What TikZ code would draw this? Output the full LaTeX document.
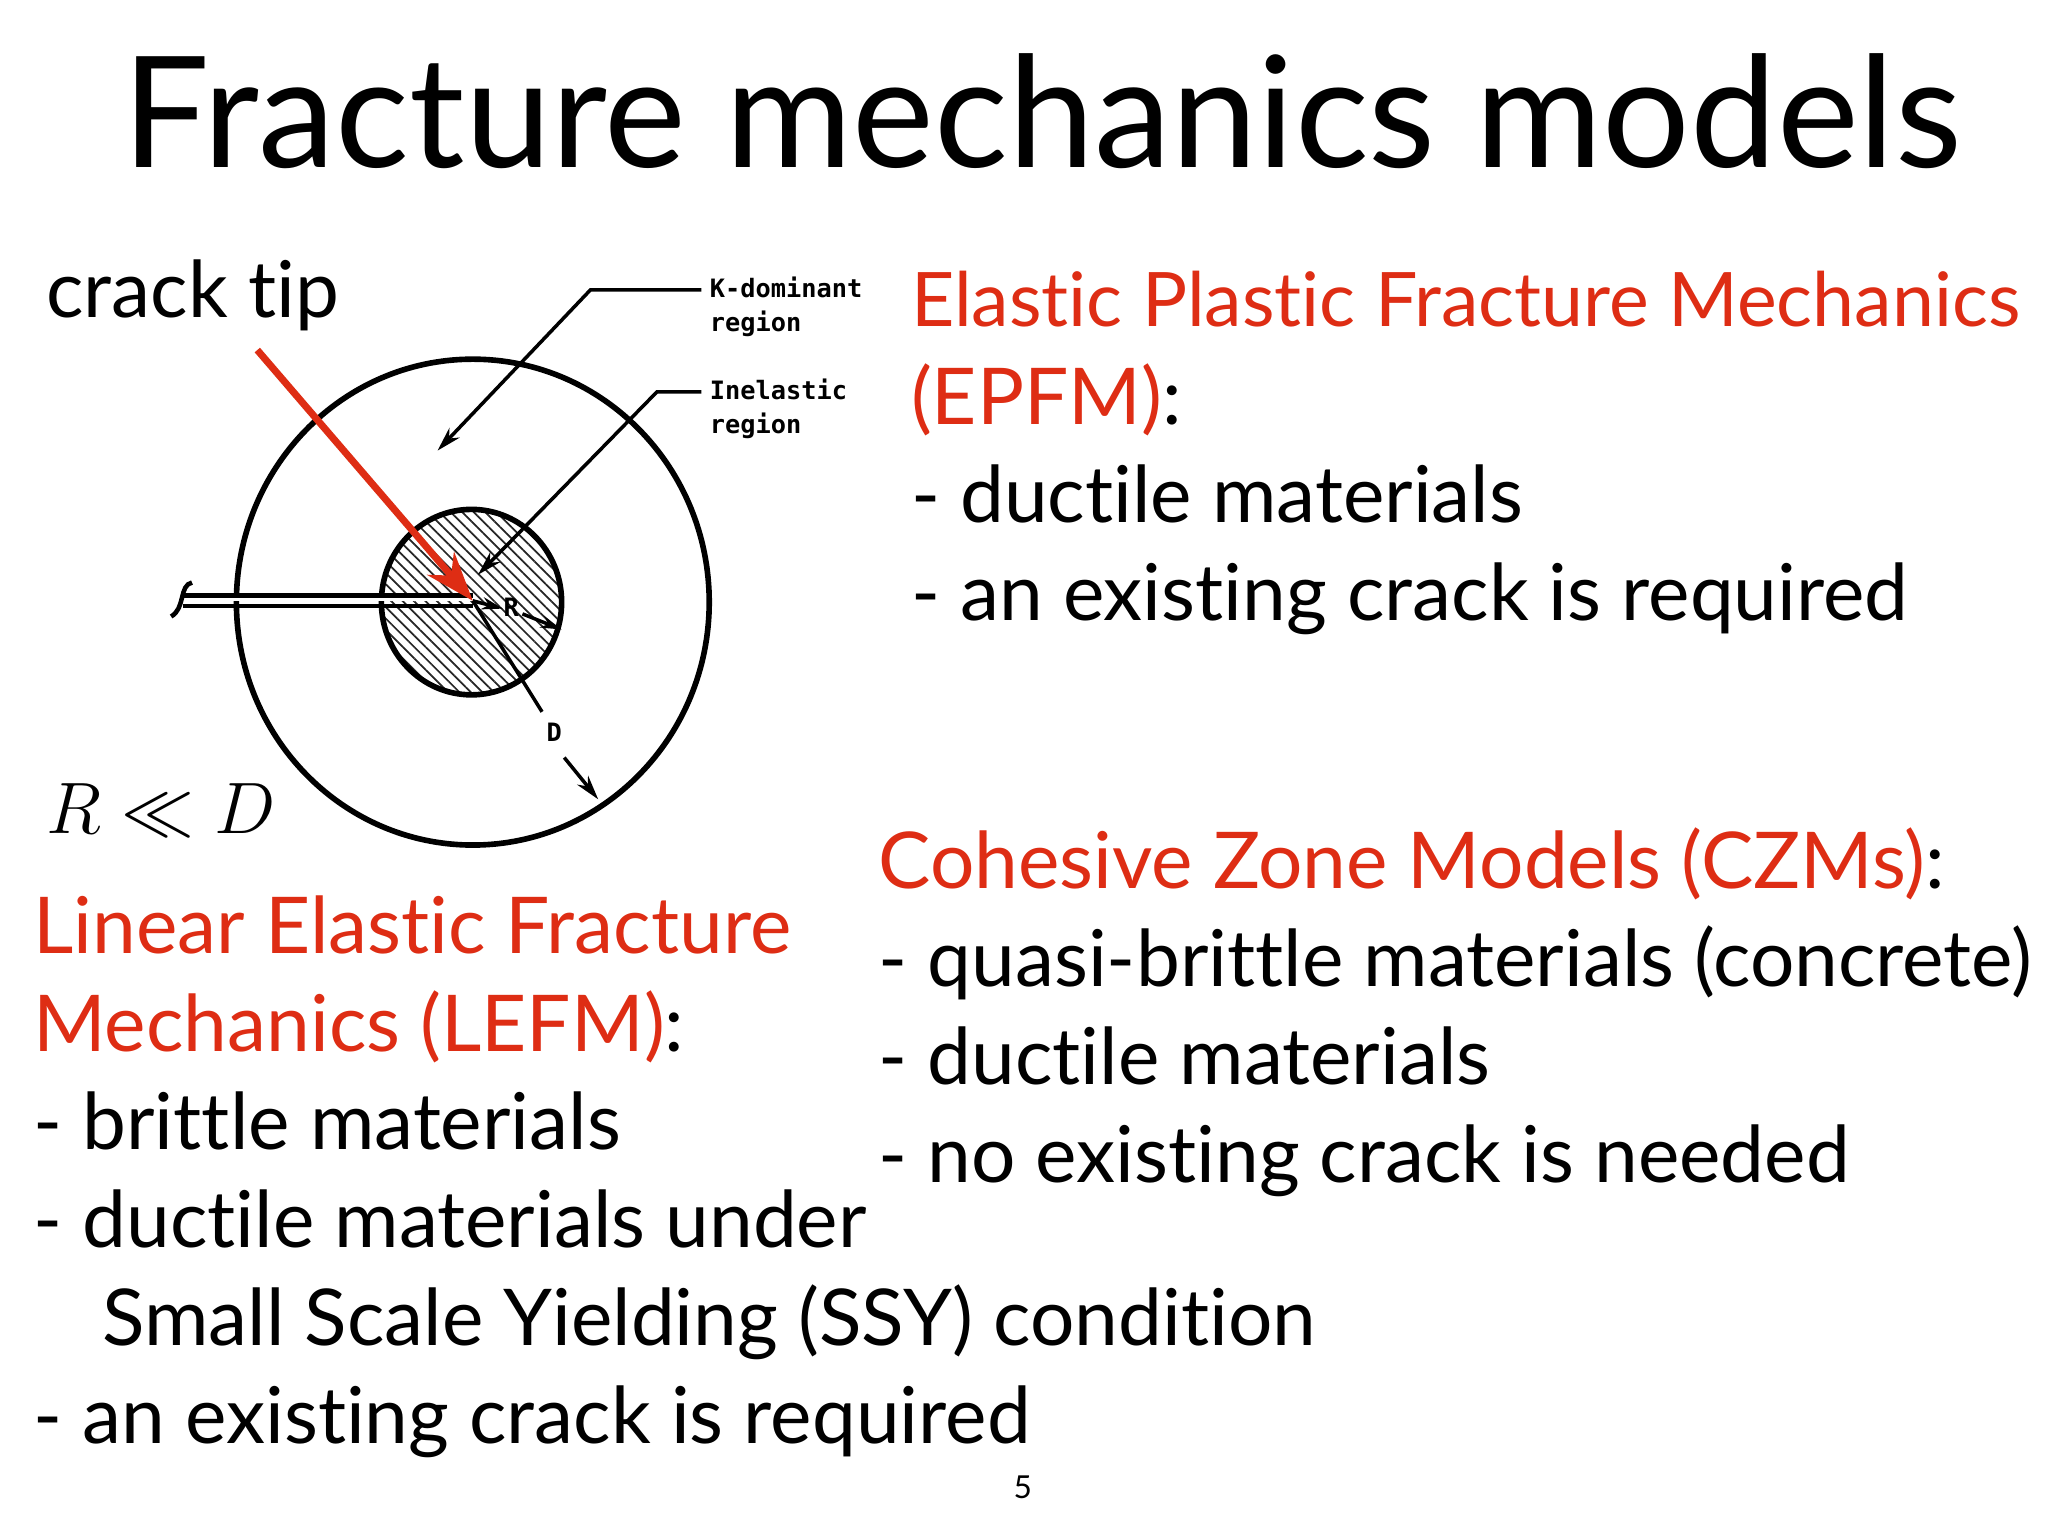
\documentclass[tikz,border=0pt]{standalone}
\usepackage{fontspec}
\setmainfont{Lato}[Ligatures={NoCommon}]
\setsansfont{DejaVu Sans Mono}
\usepackage{amsmath,amssymb}
\usetikzlibrary{patterns.meta,arrows.meta}
\definecolor{redt}{RGB}{222,45,20}
\begin{document}
\begin{tikzpicture}[x=0.01306cm,y=-0.01306cm,
  body/.style={anchor=base west,inner sep=0,font=\fontsize{22.3}{26}\selectfont},
  redb/.style={body,text=redt},
  lab/.style={anchor=base west,inner sep=0,font=\sffamily\bfseries\fontsize{7.2}{9}\selectfont},
  leader/.style={line width=1pt,-{Stealth[length=7pt,width=4pt]}}]
\useasboundingbox (0,0) rectangle (1568,1176);
\node[anchor=base,inner sep=0,font=\fontsize{44}{50}\selectfont] (title) at (798,128) {Fracture mechanics models};
% diagram
\draw[line width=1.6pt] (362,461) ellipse [x radius=181, y radius=186];
\fill[pattern={Lines[angle=-45,distance=2.3pt,line width=0.5pt]},pattern color=black!85] (361,461) ellipse [x radius=69, y radius=71];
\draw[line width=1.6pt] (361,461) ellipse [x radius=69, y radius=71];
\coordinate (tip) at (362,460);
\fill[white] (140,456) rectangle (tip);
\draw[line width=1.3pt] (140,456) -- (362,456) (140,464) -- (362,464);
\draw[line width=1.3pt] (147,446) .. controls (137,448) and (142,466) .. (131,472);
\coordinate (kend) at (537,222);
\coordinate (iend) at (537,300);
\draw[leader] (kend) -- (452,222) -- (335,345);
\draw[leader] (iend) -- (503,300) -- (366,440);
\draw[line width=1pt,-{Stealth[length=6pt,width=3.5pt]}] (tip) -- (385,466);
\draw[line width=1pt,-{Stealth[length=6pt,width=3.5pt]}] (400,470) -- (430,482);
\node[lab] (rl) at (385,472) {R};
\draw[line width=1pt] (tip) -- (415,545);
\draw[line width=1pt,-{Stealth[length=7pt,width=4pt]}] (432,580) -- (458,612);
\node[lab] (dl) at (418,568) {D};
\node[lab] (kl) at (543,228) {K-dominant};
\node[lab] (kl2) at (543,254) {region};
\node[lab] (il) at (543,306) {Inelastic};
\node[lab] (il2) at (543,332) {region};
\node[body] (ct) at (35,243) {crack tip};
\draw[redt,line width=2pt,-{Stealth[length=14pt,width=10pt]}] (197,268) -- (tip);
\node[anchor=base west,inner sep=0,font=\fontsize{21.5}{24}\selectfont] (rd) at (35,638) {$R\ll D$};
% EPFM
\node[redb,font=\fontsize{21.4}{26}\selectfont] (e1) at (697,250) {Elastic Plastic Fracture Mechanics};
\node[body] (e2) at (697,325) {\textcolor{redt}{(EPFM)}:};
\node[body] (e3) at (697,400) {- ductile materials};
\node[body] (e4) at (697,475) {- an existing crack is required};
% CZM
\node[body] (c1) at (672,680) {\textcolor{redt}{Cohesive Zone Models (CZMs)}:};
\node[body] (c2) at (672,755) {- quasi-brittle materials (concrete)};
\node[body] (c3) at (672,830) {- ductile materials};
\node[body] (c4) at (672,905) {- no existing crack is needed};
% LEFM
\node[redb] (l1) at (25,730) {Linear Elastic Fracture};
\node[body] (l2) at (25,805) {\textcolor{redt}{Mechanics (LEFM)}:};
\node[body] (l3) at (25,880) {- brittle materials};
\node[body] (l4) at (25,955) {- ductile materials under};
\node[body] (l5) at (78,1030) {Small Scale Yielding (SSY) condition};
\node[body] (l6) at (25,1105) {- an existing crack is required};
\node[anchor=base,inner sep=0,font=\fontsize{9}{10}\selectfont] (pg) at (783,1147) {5};
\end{tikzpicture}
\end{document}
